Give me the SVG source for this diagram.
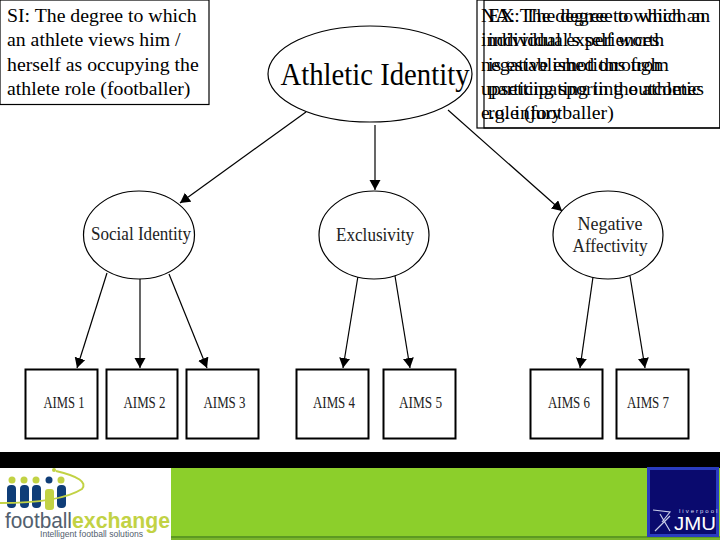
<svg xmlns="http://www.w3.org/2000/svg" width="720" height="540" viewBox="0 0 720 540">
<defs>
<marker id="arrow" markerUnits="userSpaceOnUse" markerWidth="12" markerHeight="12" refX="10" refY="5.500" orient="auto"><path d="M0,0 L10,5.500 L0,11 Z" fill="#000"/></marker>
</defs>
<style>
text{font-family:"Liberation Serif","Times New Roman",serif;fill:#000}
.sans{font-family:"Liberation Sans",Arial,sans-serif}
.note{font-size:19.800px}
.noteBox{fill:#fff;stroke:#000;stroke-width:1.200}
.ell{fill:#fff;stroke:#000;stroke-width:1.200}
.box{fill:#fff;stroke:#000;stroke-width:2}
.lbl{font-size:18px;text-anchor:middle;fill:#222}
.aims{font-size:16px;text-anchor:middle;fill:#222}
.con{stroke:#000;stroke-width:1.200;fill:none;marker-end:url(#arrow)}
</style>
<rect width="720" height="540" fill="#fff"/>
<g id="connectors">
<path class="con" d="M306,112 L180,203"/>
<path class="con" d="M375,125 L375,190"/>
<path class="con" d="M448,110 L562,211"/>
<path class="con" d="M107,273 L77,368"/>
<path class="con" d="M140,279 L140,368"/>
<path class="con" d="M169,274 L207,368"/>
<path class="con" d="M358,276 L343,368"/>
<path class="con" d="M395,276 L410,368"/>
<path class="con" d="M593,277 L580,368"/>
<path class="con" d="M630,276 L645,368"/>
</g>
<g id="athletic"><ellipse class="ell" cx="370" cy="74" rx="102" ry="48"/><text x="375" y="85" font-size="31" text-anchor="middle" fill="#222" textLength="189" lengthAdjust="spacingAndGlyphs">Athletic Identity</text></g>
<g id="social"><ellipse class="ell" cx="139" cy="235" rx="55.500" ry="44"/><text class="lbl" x="141" y="240" textLength="100" lengthAdjust="spacingAndGlyphs">Social Identity</text></g>
<g id="exclusivity"><ellipse class="ell" cx="374" cy="235" rx="55" ry="44"/><text class="lbl" x="375" y="241" textLength="78" lengthAdjust="spacingAndGlyphs">Exclusivity</text></g>
<g id="negative"><ellipse class="ell" cx="608" cy="235" rx="55" ry="44"/><text class="lbl" x="610" y="230">Negative</text><text class="lbl" x="610" y="252" textLength="75" lengthAdjust="spacingAndGlyphs">Affectivity</text></g>
<g id="aims1"><rect class="box" x="25.500" y="369.500" width="72" height="69"/><text class="aims" x="64" y="408" textLength="41" lengthAdjust="spacingAndGlyphs">AIMS 1</text></g>
<g id="aims2"><rect class="box" x="106.500" y="369.500" width="71" height="69"/><text class="aims" x="144.500" y="408" textLength="42" lengthAdjust="spacingAndGlyphs">AIMS 2</text></g>
<g id="aims3"><rect class="box" x="186.500" y="369.500" width="72" height="69"/><text class="aims" x="224.500" y="408" textLength="42" lengthAdjust="spacingAndGlyphs">AIMS 3</text></g>
<g id="aims4"><rect class="box" x="296.500" y="369.500" width="72" height="69"/><text class="aims" x="334" y="408" textLength="42" lengthAdjust="spacingAndGlyphs">AIMS 4</text></g>
<g id="aims5"><rect class="box" x="383.500" y="369.500" width="72" height="69"/><text class="aims" x="420.500" y="408" textLength="43" lengthAdjust="spacingAndGlyphs">AIMS 5</text></g>
<g id="aims6"><rect class="box" x="530.500" y="369.500" width="72" height="69"/><text class="aims" x="569" y="408" textLength="42" lengthAdjust="spacingAndGlyphs">AIMS 6</text></g>
<g id="aims7"><rect class="box" x="616.500" y="369.500" width="72" height="69"/><text class="aims" x="648" y="408" textLength="42" lengthAdjust="spacingAndGlyphs">AIMS 7</text></g>
<g id="note-si"><rect class="noteBox" x="0" y="0" width="209" height="104.500"/>
<text class="note" x="7" y="22">SI: The degree to which</text><text class="note" x="7" y="46">an athlete views him /</text><text class="note" x="7" y="71">herself as occupying the</text><text class="note" x="7" y="95">athlete role (footballer)</text></g>
<g id="note-na"><rect class="noteBox" x="477" y="0" width="243" height="128"/>
<text class="note" x="481" y="22">NA: The degree to which an</text><text class="note" x="481" y="46">individual experiences</text><text class="note" x="481" y="71">negative emotions from</text><text class="note" x="481" y="95">upsetting sporting outcomes</text><text class="note" x="481" y="119">e.g. injury</text></g>
<g id="note-ex"><rect x="484" y="0" width="236" height="128" fill="none" stroke="#000" stroke-width="1.200"/>
<text class="note" x="488" y="22">EX: The degree to which an</text><text class="note" x="488" y="46">individual's self worth</text><text class="note" x="488" y="71">is established through</text><text class="note" x="488" y="95">participating in the athletic</text><text class="note" x="488" y="119">role (footballer)</text></g>
<g id="footer">
<rect x="0" y="452" width="720" height="16" fill="#000"/>
<rect x="0" y="468" width="720" height="72" fill="#8ccf2b"/>
<rect x="0" y="536" width="720" height="2" fill="#5c9a22"/>
<rect x="0" y="538" width="720" height="2" fill="#7ab52c"/>
<rect x="0" y="468" width="171" height="72" fill="#fff"/>
<g fill="#0f3d78"><rect x="7" y="485" width="9" height="23" rx="4"/><rect x="20" y="485" width="9" height="23" rx="4"/><rect x="32" y="485" width="9" height="23" rx="4"/><rect x="57" y="485" width="9" height="23" rx="4"/></g>
<g fill="#c2d244"><circle cx="12" cy="480" r="3.500"/><circle cx="24" cy="480" r="3.500"/><circle cx="36" cy="480" r="3.500"/><circle cx="61" cy="480" r="3.500"/><circle cx="54" cy="470" r="2"/><rect x="45" y="489" width="9" height="21" rx="3"/></g>
<circle cx="49" cy="480" r="3.500" fill="#0f3d78"/>
<path d="M56,471 Q90,479 82,489 Q60,503 0,503" fill="none" stroke="#c2d244" stroke-width="2"/>
<text class="sans" x="5" y="528" font-size="22" fill="#52606e" style="font-family:'Liberation Sans',Arial,sans-serif;fill:#52606e" textLength="67" lengthAdjust="spacingAndGlyphs">football</text>
<text x="72" y="528" font-size="22" font-weight="700" style="font-family:'Liberation Sans',Arial,sans-serif;fill:#c2d244" textLength="98" lengthAdjust="spacingAndGlyphs">exchange</text>
<text x="40" y="537" font-size="9.500" style="font-family:'Liberation Sans',Arial,sans-serif;fill:#52606e" textLength="103" lengthAdjust="spacingAndGlyphs">Intelligent football solutions</text>
<rect x="648.500" y="468.500" width="69" height="67" fill="#0a0a6e" stroke="#2a3cc0" stroke-width="3"/>
<path d="M653,510 L670,512 L662,522 M655,531 L670,516 M660,514 L670,531" fill="none" stroke="#c8cce8" stroke-width="1.200"/>
<text x="679" y="513" font-size="6" letter-spacing="2" style="font-family:'Liberation Sans',Arial,sans-serif;fill:#d8daf0">liverpool</text>
<text x="674" y="530" font-size="18" style="font-family:'Liberation Sans',Arial,sans-serif;fill:#fff" textLength="42" lengthAdjust="spacingAndGlyphs">JMU</text>
</g>
</svg>
